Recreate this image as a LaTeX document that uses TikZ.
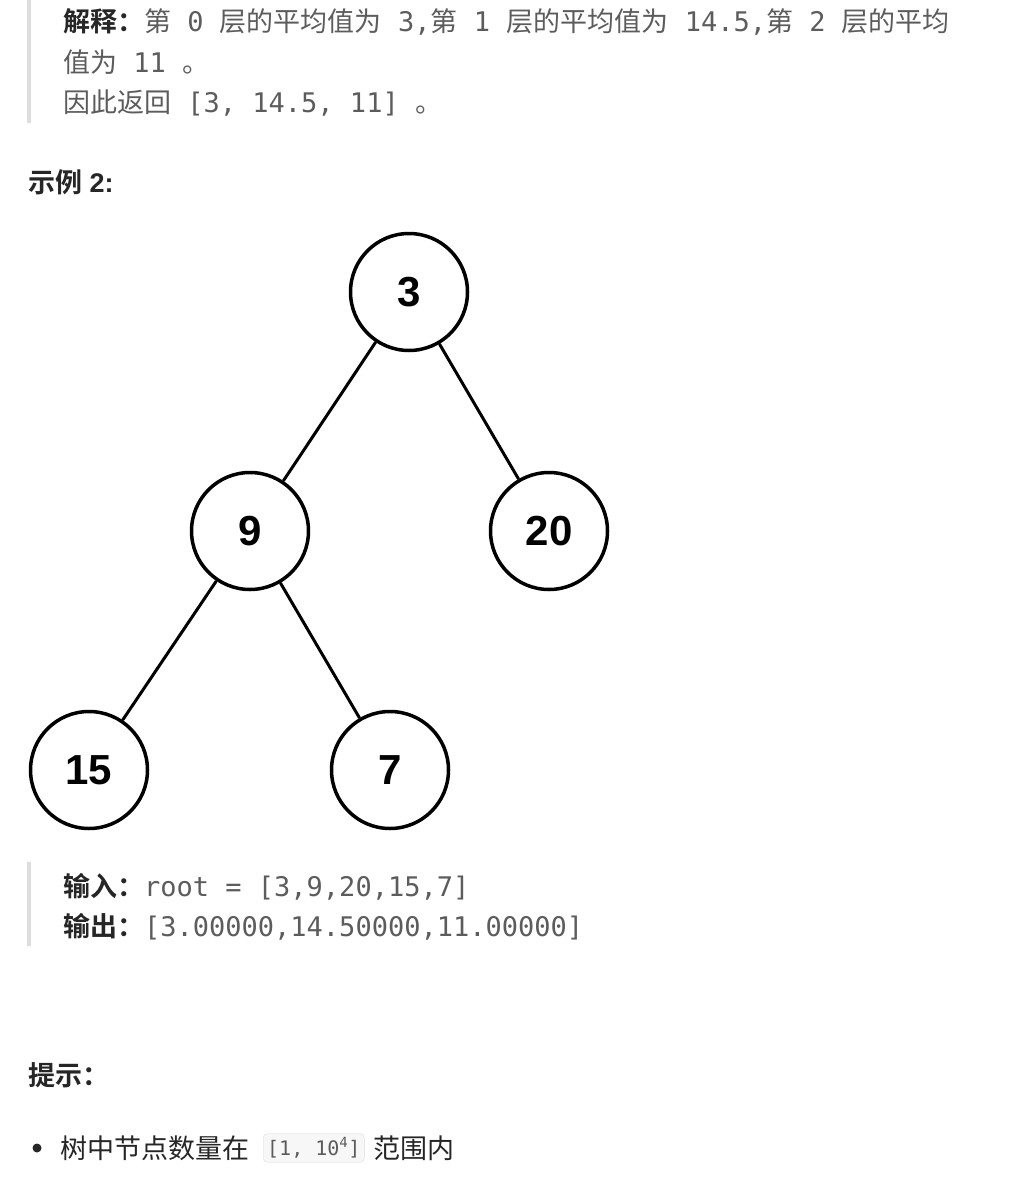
\documentclass[tikz,border=0pt]{standalone}
\usepackage{fontspec}
\setmainfont{Liberation Sans}
\newfontfamily\cjk{Noto Sans CJK SC}
\newfontfamily\cjkb{Noto Sans CJK SC Bold}
\newfontfamily\mono{DejaVu Sans Mono}
\definecolor{txt}{HTML}{262626}
\definecolor{code}{HTML}{5C5C5C}
\definecolor{bar}{HTML}{DDDDDD}
\newcommand{\cg}[1]{{\cjk\color{code}#1}}
\newcommand{\mg}[1]{{\mono\color{code}#1}}
\begin{document}
\begin{tikzpicture}[x=1pt,y=-1pt,
  tn/.style={circle,draw=black,line width=3.5pt,minimum size=117pt,inner sep=0pt,font=\fontsize{42}{42}\selectfont\bfseries},
  edge/.style={line width=3pt},
  tx/.style={anchor=base west,inner sep=0pt,text=txt,font=\fontsize{27}{30}\selectfont},
  qbar/.style={fill=bar,draw=none}]
\useasboundingbox (0,0) rectangle (1014,1188);
\fill[bar] (27,0) rectangle (31,123);
\node[tx] (l1) at (63,32) {{\cjkb 解释：}\cg{第}\mg{\ 0\ }\cg{层的平均值为}\mg{\ 3,}\cg{第}\mg{\ 1\ }\cg{层的平均值为}\mg{\ 14.5,}\cg{第}\mg{\ 2\ }\cg{层的平均}};
\node[tx] (l2) at (63,73) {\cg{值为}\mg{\ 11\ }\cg{。}};
\node[tx] (l3) at (63,113) {\cg{因此返回}\mg{\ [3, 14.5, 11]\ }\cg{。}};
\node[tx] (ex) at (28,192) {{\cjkb 示例}\bfseries\ 2:};
\node[tn] (n3) at (409,292) {3};
\node[tn] (n9) at (250,531) {9};
\node[tn] (n20) at (549,531) {20};
\node[tn] (n15) at (89,770) {15};
\node[tn] (n7) at (390,770) {7};
\draw[edge] (n3) -- (n9);
\draw[edge] (n3) -- (n20);
\draw[edge] (n9) -- (n15);
\draw[edge] (n9) -- (n7);
\fill[bar] (27,862) rectangle (31,946);
\node[tx] (in) at (63,896) {{\cjkb 输入：}\mg{root = [3,9,20,15,7]}};
\node[tx] (out) at (63,936) {{\cjkb 输出：}\mg{[3.00000,14.50000,11.00000]}};
\node[tx] (hint) at (28,1085) {{\cjkb 提示：}};
\fill[txt] (37,1148) circle (4.5);
\node[tx] (b1) at (60,1158) {{\cjk 树中节点数量在}};
\node[draw=bar,fill=black!3,rounded corners=4pt,inner sep=4pt,anchor=west,text=code,font=\fontsize{20}{20}\mono] (cb) at (263,1148) {[1, 10\textsuperscript{4}]};
\node[tx,anchor=base west] (b2) at ([xshift=9pt]cb.east |- b1.base) {{\cjk 范围内}};
\end{tikzpicture}
\end{document}
